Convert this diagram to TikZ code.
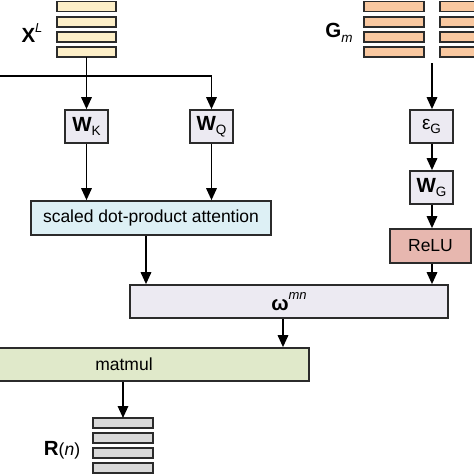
\documentclass[tikz,border=0pt]{standalone}
\usepackage{fontspec}
\setmainfont{Liberation Sans}
\usetikzlibrary{arrows.meta}
\definecolor{edge}{HTML}{2B2B2B}
\definecolor{xfill}{HTML}{FDEFC8}
\definecolor{gfill}{HTML}{F9C8A0}
\definecolor{rfill}{HTML}{D9D9D9}
\definecolor{wfill}{HTML}{ECEAF2}
\definecolor{afill}{HTML}{DDF0F5}
\definecolor{relufill}{HTML}{E7B7AF}
\definecolor{mfill}{HTML}{E0E9CA}
\tikzset{
  box/.style={draw=edge, line width=1.7pt, inner sep=0pt, font=\fontsize{17.5}{20}\selectfont},
  bar/.style={draw=edge, line width=1.6pt},
  conn/.style={draw=black, line width=1.7pt, -{Triangle[length=12pt,width=10.5pt]}},
  plain/.style={draw=black, line width=1.7pt},
  lbl/.style={inner sep=0pt, font=\fontsize{17.5}{20}\selectfont},
}
\newcommand{\bigb}[1]{{\fontsize{20.5}{22}\selectfont\bfseries #1}}
\newcommand{\subx}[1]{\raisebox{-0.25em}{\fontsize{13.5}{14}\selectfont #1}}
\newcommand{\supx}[1]{\raisebox{0.6em}{\fontsize{13}{14}\selectfont\itshape #1}}
\begin{document}
\begin{tikzpicture}[x=1pt,y=-1pt]
\useasboundingbox (0,0) rectangle (474,474);
\begin{scope}
\clip (0,0) rectangle (474,474);
% X^L bars
\foreach \t in {1.5,17,32,47} {\filldraw[bar, fill=xfill] (57,\t) rectangle (116,\t+10);}
% G_m bars
\foreach \t in {1.5,17,32,47} {
  \filldraw[bar, fill=gfill] (364,\t) rectangle (424,\t+10);
  \filldraw[bar, fill=gfill] (440,\t) rectangle (490,\t+10);
}
% R bars
\foreach \t in {418,433,448,463} {\filldraw[bar, fill=rfill] (93,\t) rectangle (153,\t+10);}
% matmul box (extends off the left edge)
\node[box, fill=mfill, minimum width=330pt, minimum height=33pt] (mat) at (144,364.5) {};
\end{scope}
\node[lbl] at (124,364) {matmul};

\coordinate (xb) at (86.5,57);
\coordinate (gb) at (432,63);
\coordinate (left) at (0,76);
\coordinate (rtop) at (123,418);

\node[lbl] (xl) at (32,33) {\bigb{X}\supx{L}};
\node[lbl] (gm) at (339,33) {\bigb{G}\subx{\itshape m}};
\node[lbl] (rn) at (62,450) {\bigb{R}(\textit{n})};

\node[box, fill=wfill, minimum width=43pt, minimum height=33pt] (wk) at (86.5,126.5) {\bigb{W}\subx{K}};
\node[box, fill=wfill, minimum width=43pt, minimum height=33pt] (wq) at (211.5,126.5) {\bigb{W}\subx{Q}};
\node[box, fill=afill, minimum width=240pt, minimum height=34pt] (att) at (151,218) {scaled dot-product attention};
\node[box, fill=wfill, minimum width=43pt, minimum height=33pt] (eps) at (431.5,126.5) {{\fontsize{19}{20}\selectfont ε}\subx{G}};
\node[box, fill=wfill, minimum width=43pt, minimum height=33pt] (wg) at (431.5,187.5) {\bigb{W}\subx{G}};
\node[box, fill=relufill, minimum width=81pt, minimum height=34pt] (relu) at (430.5,246) {ReLU};
\node[box, fill=wfill, minimum width=318pt, minimum height=33pt] (om) at (289,301.5) {\bigb{ω}\supx{mn}};

\draw[conn] (xb) -- (wk.north);
\draw[plain] (left) -- (211.5,76);
\draw[conn] (211.5,76) -- (wq.north);
\draw[conn] (wk.south) -- (att.north -| wk.south);
\draw[conn] (wq.south) -- (att.north -| wq.south);
\draw[conn] (att.south -| 146,0) -- (om.north -| 146,0);
\draw[conn] (gb) -- (eps.north -| gb);
\draw[conn] (eps.south -| gb) -- (wg.north -| gb);
\draw[conn] (wg.south -| gb) -- (relu.north -| gb);
\draw[conn] (relu.south -| gb) -- (om.north -| gb);
\draw[conn] (om.south -| 283,0) -- (mat.north -| 283,0);
\draw[conn] (mat.south -| rtop) -- (rtop);
\end{tikzpicture}
\end{document}
